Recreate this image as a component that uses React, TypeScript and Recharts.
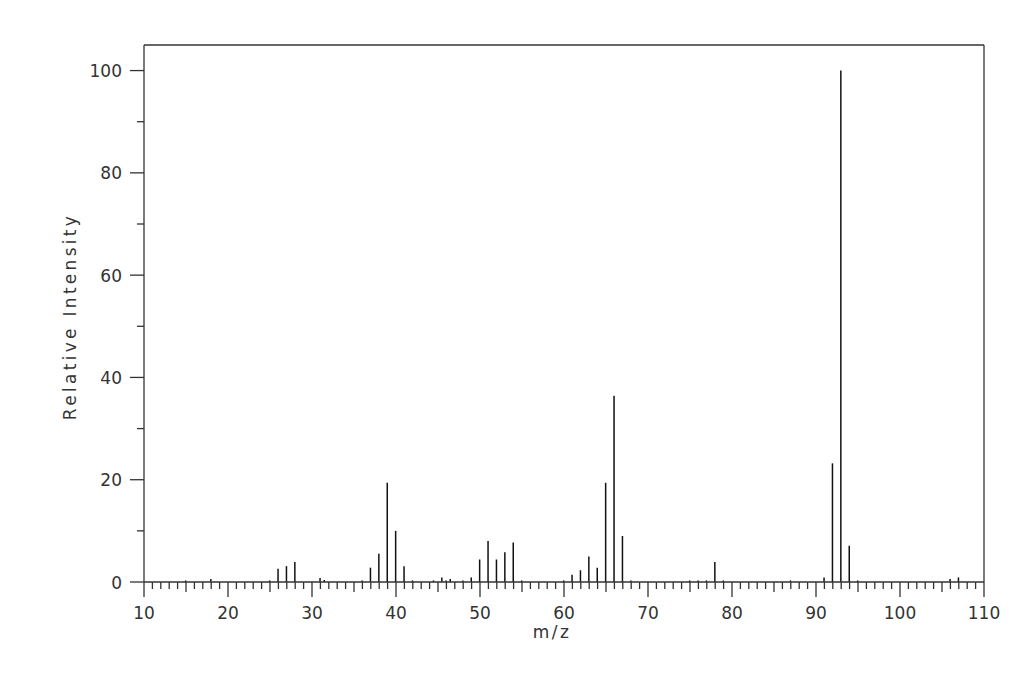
import React from 'react';
import { ComposedChart, Bar, XAxis, YAxis, ReferenceLine, Label } from 'recharts';

// m/z values of the peaks (half-integer ones are doubly charged ions)
const mzValues = [
  15, 18, 25, 26, 27, 28, 31, 31.5, 36, 37, 38, 39, 40, 41, 42,
  44.5, 45.5, 46, 46.5, 48, 49, 50, 51, 52, 53, 54, 55,
  60, 61, 62, 63, 64, 65, 66, 67, 68, 75, 76, 77, 78, 79,
  87, 91, 92, 93, 94, 95, 106, 107,
];
const intensities = [
  0.3, 0.6, 0.3, 2.6, 3.1, 3.9, 0.8, 0.4, 0.3, 2.8, 5.5, 19.4, 10.0, 3.1, 0.3,
  0.3, 0.9, 0.3, 0.6, 0.3, 0.9, 4.4, 8.0, 4.4, 5.8, 7.7, 0.3,
  0.3, 1.4, 2.3, 5.0, 2.8, 19.4, 36.4, 9.0, 0.3, 0.3, 0.3, 0.3, 3.9, 0.3,
  0.3, 0.9, 23.2, 100, 7.1, 0.3, 0.6, 0.9,
];

const xLabelTicks = [10, 20, 30, 40, 50, 60, 70, 80, 90, 100, 110];
const yTicks = [0, 10, 20, 30, 40, 50, 60, 70, 80, 90, 100];
const yLabelTicks = [0, 20, 40, 60, 80, 100];

const xTicks: number[] = [];
for (let v = 10; v <= 110; v++) xTicks.push(v);

const data = mzValues.map((mz, i) => ({ mz, intensity: intensities[i] }));

const FONT = '"DejaVu Sans", sans-serif';
const INK = '#333';

const XTick = (props: any) => {
  const { x, y, payload } = props;
  const v = payload.value;
  const len = v % 10 === 0 ? 15 : v % 5 === 0 ? 10 : 7;
  return (
    <g>
      <line x1={x} x2={x} y1={y} y2={y + len} stroke={INK} strokeWidth={1.3} />
      {xLabelTicks.includes(v) && (
        <text x={x} y={y + 37} textAnchor="middle" fontFamily={FONT} fontSize={17} fill={INK}>
          {v}
        </text>
      )}
    </g>
  );
};

const YTick = (props: any) => {
  const { x, y, payload } = props;
  const v = payload.value;
  const major = yLabelTicks.includes(v);
  return (
    <g>
      <line x1={x - (major ? 14 : 7)} x2={x} y1={y} y2={y} stroke={INK} strokeWidth={1.3} />
      {major && (
        <text x={x - 22} y={y + 6.5} textAnchor="end" fontFamily={FONT} fontSize={17} fill={INK}>
          {v}
        </text>
      )}
    </g>
  );
};

const App: React.FC = () => {
  return (
    <div style={{ position: 'absolute', left: 0, top: 0, background: '#fff' }}>
      <ComposedChart
        width={1032}
        height={680}
        data={data}
        margin={{ top: 45, right: 48, left: 0, bottom: 0 }}
      >
        <XAxis
          dataKey="mz"
          type="number"
          domain={[10, 110]}
          ticks={xTicks}
          interval={0}
          tickSize={0}
          tickMargin={0}
          tickLine={false}
          tick={<XTick />}
          height={98}
          axisLine={{ stroke: INK, strokeWidth: 1.3 }}
          allowDataOverflow
        >
          <Label
            content={(p: any) => {
              const vb = p.viewBox;
              return (
                <text
                  x={vb.x + vb.width / 2 - 12}
                  y={vb.y + 56}
                  textAnchor="middle"
                  fontFamily={FONT}
                  fontSize={17}
                  letterSpacing={2.5}
                  fill={INK}
                >
                  m/z
                </text>
              );
            }}
          />
        </XAxis>
        <YAxis
          type="number"
          domain={[0, 105]}
          ticks={yTicks}
          interval={0}
          tickSize={0}
          tickMargin={0}
          tickLine={false}
          tick={<YTick />}
          width={144}
          axisLine={{ stroke: INK, strokeWidth: 1.3 }}
          allowDataOverflow
        >
          <Label
            content={(p: any) => {
              const vb = p.viewBox;
              const cx = 70;
              const cy = vb.y + vb.height / 2 + 3;
              return (
                <text
                  x={cx}
                  y={cy}
                  transform={`rotate(-90, ${cx}, ${cy})`}
                  textAnchor="middle"
                  dominantBaseline="central"
                  fontFamily={FONT}
                  fontSize={17}
                  letterSpacing={3.3}
                  fill={INK}
                >
                  Relative Intensity
                </text>
              );
            }}
          />
        </YAxis>
        <ReferenceLine y={105} stroke={INK} strokeWidth={1.3} />
        <ReferenceLine x={110} stroke={INK} strokeWidth={1.3} />
        <Bar dataKey="intensity" fill="#111" barSize={1.5} isAnimationActive={false} />
      </ComposedChart>
    </div>
  );
};

export default App;
